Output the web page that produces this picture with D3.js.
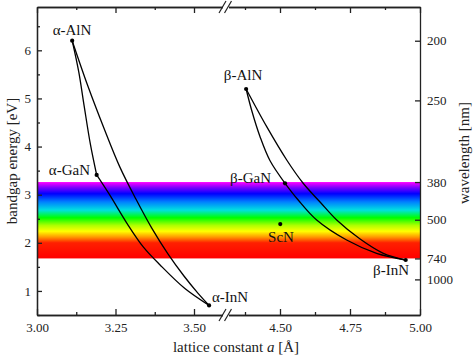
<!DOCTYPE html>
<html><head><meta charset="utf-8">
<script src="https://cdn.jsdelivr.net/npm/d3@7"></script>
<style>
body{margin:0;background:#fff;}
svg{display:block;font-family:"Liberation Serif","Times New Roman",serif;}
</style></head>
<body>
<svg id="chart" width="474" height="358"></svg>
<script>
// ---- data ----
const yTicks = [1, 2, 3, 4, 5, 6];
const yMinorTicks = [0.5, 1.5, 2.5, 3.5, 4.5, 5.5, 6.5];
const xTicksLeft = [3.00, 3.25, 3.50];
const xMinorLeft = [3.125, 3.375];
const xTicksRight = [4.50, 4.75, 5.00];
const xMinorRight = [4.375, 4.625, 4.875];
const wavelengthTicks = [200, 250, 380, 500, 740, 1000];

const compoundNames = ["α-AlN", "α-GaN", "α-InN", "β-AlN", "β-GaN", "β-InN", "ScN"];
const compoundA     = [3.112, 3.190, 3.548, 4.379, 4.518, 4.949, 4.501];
const compoundE     = [6.20, 3.41, 0.70, 5.196, 3.237, 1.643, 2.39];

// alloy curves [a, E]
const alphaAlGaN = [[3.112,6.20],[3.133,5.55],[3.150,4.85],[3.170,4.05],[3.190,3.41]];
const alphaAlInN = [[3.112,6.20],[3.162,5.258],[3.213,4.386],[3.264,3.573],[3.315,2.91],[3.366,2.30],[3.417,1.77],[3.468,1.31],[3.513,0.95],[3.548,0.70]];
const alphaInGaN = [[3.190,3.41],[3.232,2.99],[3.286,2.41],[3.339,1.91],[3.392,1.54],[3.471,1.05],[3.548,0.70]];
const betaAlGaN  = [[4.379,5.196],[4.399,4.75],[4.429,4.20],[4.464,3.71],[4.518,3.237]];
const betaAlInN  = [[4.379,5.196],[4.4525,4.413],[4.524,3.721],[4.582,3.243],[4.643,2.848],[4.7025,2.474],[4.786,2.079],[4.869,1.782],[4.949,1.643]];
const betaInGaN  = [[4.518,3.237],[4.565,2.890],[4.631,2.474],[4.738,2.058],[4.845,1.782],[4.949,1.643]];

// visible band (nm)
const bandLimits = [380, 740];
const bandStopE  = [3.26, 3.15, 3.02, 2.85, 2.68, 2.52, 2.36, 2.24, 2.12, 2.00, 1.675];
const bandStopC  = ["#ff00ff","#8000ff","#0000ff","#0080ff","#00e0e0","#00ff00","#b0ff00","#ffff00","#ff9900","#ff2000","#ff0000"];

// ---- layout ----
const svg = d3.select("#chart");
const L = 37, R = 420, T = 7, B = 315, BRK = 225;
const xL = d3.scaleLinear().domain([3.0, 3.6]).range([L, 225.4]);
const xR = d3.scaleLinear().domain([4.3, 5.0]).range([224, R]);
const xa = a => a < 4 ? xL(a) : xR(a);
const y = d3.scaleLinear().domain([0.5, 6.9]).range([B, T]);
const hc = 1239.84;

// rainbow band
const defs = svg.append("defs");
const yTop = y(hc / bandLimits[0]), yBot = y(hc / bandLimits[1]);
const grad = defs.append("linearGradient").attr("id","rb")
  .attr("gradientUnits","userSpaceOnUse").attr("x1",0).attr("x2",0).attr("y1",yTop).attr("y2",yBot);
bandStopE.forEach((e,i)=>{
  grad.append("stop").attr("offset", (y(e)-yTop)/(yBot-yTop)).attr("stop-color", bandStopC[i]);
});
svg.append("rect").attr("x",L).attr("y",yTop).attr("width",R-L).attr("height",yBot-yTop).attr("fill","url(#rb)");

// curves
const line = d3.line().x(d=>xa(d[0])).y(d=>y(d[1])).curve(d3.curveCatmullRom.alpha(0.5));
[alphaAlGaN, alphaAlInN, alphaInGaN, betaAlGaN, betaAlInN, betaInGaN].forEach(c=>{
  svg.append("path").attr("d", line(c)).attr("fill","none").attr("stroke","#000").attr("stroke-width",1.3);
});

// points
compoundNames.forEach((n,i)=>{
  svg.append("circle").attr("cx", xa(compoundA[i])).attr("cy", y(compoundE[i])).attr("r", 2.1).attr("fill","#000");
});

// labels
const labelPos = {
  "α-AlN": [72, 35, "middle"], "α-GaN": [90, 175, "end"], "α-InN": [212, 302, "start"],
  "β-AlN": [243, 80, "middle"], "β-GaN": [271, 183, "end"], "β-InN": [391, 275, "middle"],
  "ScN": [281, 242, "middle"]
};
compoundNames.forEach(n=>{
  const p = labelPos[n];
  svg.append("text").attr("x",p[0]).attr("y",p[1]).attr("text-anchor",p[2])
    .attr("font-size",15).attr("fill","#111").text(n);
});

// axes
function style(g){
  g.selectAll("path,line").attr("stroke","#222").attr("stroke-width",1.3);
  g.selectAll("text").attr("font-family","Liberation Serif").attr("font-size",13).attr("fill","#222");
}
const fmt = d3.format(".2f");
[[xL,xTicksLeft,xMinorLeft],[xR,xTicksRight,xMinorRight]].forEach(([sc,maj,min])=>{
  svg.append("g").attr("transform",`translate(0,${B})`)
    .call(d3.axisBottom(sc).tickValues(maj).tickFormat(fmt).tickSize(-6).tickSizeOuter(0).tickPadding(8)).call(style);
  svg.append("g").attr("transform",`translate(0,${B})`)
    .call(d3.axisBottom(sc).tickValues(min).tickFormat("").tickSize(-3).tickSizeOuter(0)).call(style);
  svg.append("g").attr("transform",`translate(0,${T})`)
    .call(d3.axisTop(sc).tickValues(maj).tickFormat("").tickSize(-6).tickSizeOuter(0)).call(style);
  svg.append("g").attr("transform",`translate(0,${T})`)
    .call(d3.axisTop(sc).tickValues(min).tickFormat("").tickSize(-3).tickSizeOuter(0)).call(style);
});
svg.append("g").attr("transform",`translate(${L},0)`)
  .call(d3.axisLeft(y).tickValues(yTicks).tickFormat(d3.format("d")).tickSize(-5).tickSizeOuter(0).tickPadding(6)).call(style);
svg.append("g").attr("transform",`translate(${L},0)`)
  .call(d3.axisLeft(y).tickValues(yMinorTicks).tickFormat("").tickSize(-3).tickSizeOuter(0)).call(style);
svg.append("g").attr("transform",`translate(${R},0)`)
  .call(d3.axisRight(y).tickValues(wavelengthTicks.map(w=>hc/w)).tickFormat((d,i)=>wavelengthTicks[i]).tickSize(-5).tickSizeOuter(0).tickPadding(7)).call(style);

// break marks
[B, T].forEach(yy=>{
  svg.append("rect").attr("x",BRK-2).attr("y",yy-3).attr("width",6).attr("height",6).attr("fill","#fff");
  [BRK-2.5, BRK+3].forEach(xx=>{
    svg.append("line").attr("x1",xx-3.5).attr("y1",yy+6).attr("x2",xx+3.5).attr("y2",yy-6)
      .attr("stroke","#222").attr("stroke-width",1.2);
  });
});

// titles
const xt = svg.append("text").attr("x",236).attr("y",352).attr("text-anchor","middle").attr("font-size",15).attr("fill","#222");
xt.append("tspan").text("lattice constant ");
xt.append("tspan").attr("font-style","italic").text("a");
xt.append("tspan").text(" [Å]");
svg.append("text").attr("transform","translate(17,161) rotate(-90)").attr("text-anchor","middle")
  .attr("font-size",15).attr("fill","#222").text("bandgap energy [eV]");
svg.append("text").attr("transform","translate(469,153) rotate(-90)").attr("text-anchor","middle")
  .attr("font-size",15).attr("fill","#222").text("wavelength [nm]");
</script>
</body></html>
